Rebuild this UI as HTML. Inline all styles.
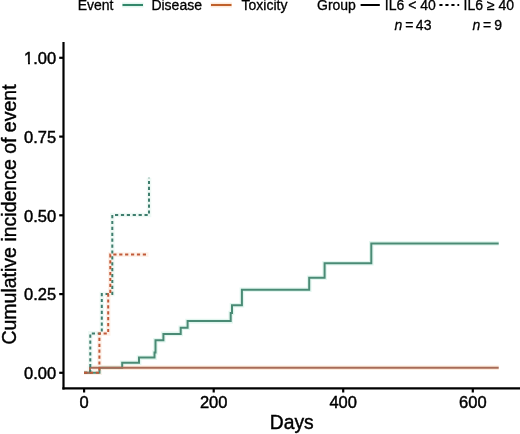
<!DOCTYPE html>
<html><head><meta charset="utf-8">
<style>
html,body{margin:0;padding:0;background:#fff;}
body{width:520px;height:434px;overflow:hidden;}
svg{display:block;filter:blur(0.3px);}
text{font-family:"Liberation Sans",Arial,sans-serif;fill:#000;stroke:#000;}
.lg text{stroke-width:0.3px;}
.tk text{stroke-width:0.45px;}
text.ti{stroke-width:0.4px;}
</style></head>
<body>
<svg width="520" height="434" viewBox="0 0 520 434">
<rect width="520" height="434" fill="#fff"/>
<!-- legend -->
<g class="lg" font-size="14">
<text x="77.7" y="10.3">Event</text>
<line x1="122" y1="5" x2="143.5" y2="5" stroke="#e2f6ef" stroke-width="5"/>
<line x1="122.5" y1="5" x2="143" y2="5" stroke="#32876a" stroke-width="2"/>
<text x="151.4" y="10.3">Disease</text>
<line x1="210.5" y1="5" x2="232" y2="5" stroke="#fdebdc" stroke-width="5"/>
<line x1="211" y1="5" x2="231.5" y2="5" stroke="#c0602a" stroke-width="2"/>
<text x="241.55" y="10.3">Toxicity</text>
<text x="317" y="10.3">Group</text>
<line x1="360.6" y1="5" x2="379.8" y2="5" stroke="#000" stroke-width="2"/>
<text x="384.8" y="10.3">IL6 &lt; 40</text>
<line x1="439.4" y1="5" x2="459.2" y2="5" stroke="#000" stroke-width="2.2" stroke-dasharray="3.1 2.9"/>
<text x="463.6" y="10.3">IL6 ≥ 40</text>
<text x="394.4" y="30.1" font-style="italic">n</text>
<text x="405.2" y="30.1">=</text>
<text x="415.85" y="30.1">43</text>
<text x="472.5" y="30.1" font-style="italic">n</text>
<text x="483.05" y="30.1">=</text>
<text x="494.2" y="30.1">9</text>
</g>
<!-- curves -->
<g fill="none" stroke-linejoin="miter" stroke-linecap="butt">
<g stroke-width="4.6">
<path d="M84,372.8 H99.5 V367.7 H122.2 V362.8 H139 V357.6 H154.5 V352.5 H155.5 V340.2 H163.4 V333.9 H180.7 V327.8 H187.6 V321.1 H230.7 V313 H232 V305.3 H241.9 V289.7 H309.2 V277.7 H324.6 V263.3 H371.3 V243.4 H498.7" stroke="#e2f6ef"/>
<path d="M84,372.8 H90 V367.7 H498.7" stroke="#fdebdc"/>
<path d="M84,372.8 H90.3 V333.4 H101.8 V294 H112.3 V215 H149 V177.7" stroke="#eff9f5"/>
<path d="M84,372.8 H99.4 V333.4 H108.2 V294 H110.3 V254.6 H148.5" stroke="#fdf1e9"/>
</g>
<g stroke-width="2">
<path d="M84,372.8 H99.5 V367.7 H122.2 V362.8 H139 V357.6 H154.5 V352.5 H155.5 V340.2 H163.4 V333.9 H180.7 V327.8 H187.6 V321.1 H230.7 V313 H232 V305.3 H241.9 V289.7 H309.2 V277.7 H324.6 V263.3 H371.3 V243.4 H498.7" stroke="#4a8b75"/>
<path d="M84,372.8 H90 V367.7 H498.7" stroke="#a86c58"/>
<path d="M84,372.8 H90.3 V333.4 H101.8 V294 H112.3 V215 H149 V177.7" stroke="#3f7e6e" stroke-dasharray="3.2 2.7"/>
<path d="M84,372.8 H99.4 V333.4 H108.2 V294 H110.3 V254.6 H148.5" stroke="#c25a38" stroke-dasharray="3.2 2.7"/>
</g>
</g>
<!-- axes -->
<g stroke="#000" stroke-width="2.2" fill="none">
<line x1="63.5" y1="42" x2="63.5" y2="389.5"/>
<line x1="62.4" y1="388.4" x2="520" y2="388.4"/>
<line x1="59.2" y1="57.8" x2="63.5" y2="57.8"/>
<line x1="59.2" y1="136.6" x2="63.5" y2="136.6"/>
<line x1="59.2" y1="215.3" x2="63.5" y2="215.3"/>
<line x1="59.2" y1="294.1" x2="63.5" y2="294.1"/>
<line x1="59.2" y1="372.8" x2="63.5" y2="372.8"/>
<line x1="84.1" y1="388.4" x2="84.1" y2="392.5"/>
<line x1="213.7" y1="388.4" x2="213.7" y2="392.5"/>
<line x1="343.2" y1="388.4" x2="343.2" y2="392.5"/>
<line x1="472.8" y1="388.4" x2="472.8" y2="392.5"/>
</g>
<g class="tk" font-size="16.5" text-anchor="end">
<text x="56.2" y="64">1.00</text>
<text x="56.2" y="142.8">0.75</text>
<text x="56.2" y="221.5">0.50</text>
<text x="56.2" y="300.3">0.25</text>
<text x="56.2" y="379">0.00</text>
</g>
<g fill="#fff" stroke="none">
<rect x="24.4" y="61.95" width="3.62" height="3"/>
<rect x="29.93" y="61.95" width="3.2" height="3"/>
</g>
<g class="tk" font-size="16.5" text-anchor="middle">
<text x="84.1" y="407.9">0</text>
<text x="213.7" y="407.9">200</text>
<text x="343.2" y="407.9">400</text>
<text x="472.8" y="407.9">600</text>
</g>
<text x="291.75" y="428.6" font-size="19.3" text-anchor="middle" class="ti">Days</text>
<text transform="translate(15.5,214.5) rotate(-90)" font-size="19.5" text-anchor="middle" class="ti">Cumulative incidence of event</text>
</svg>
</body></html>
